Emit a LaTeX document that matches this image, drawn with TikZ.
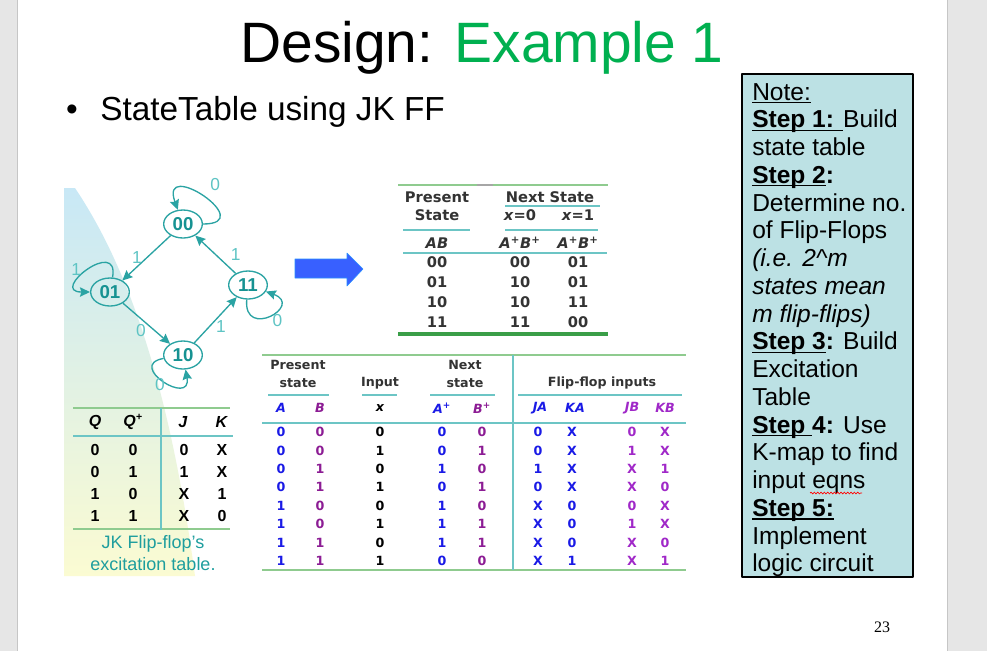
\documentclass[tikz,border=0pt]{standalone}
\usepackage{fontspec}
\setmainfont{Liberation Sans}
\newfontfamily\tabfont{DejaVu Sans}
\newfontfamily\pagefont{Liberation Serif}
\usetikzlibrary{shapes.geometric,arrows.meta,decorations.pathmorphing}
\definecolor{slidegray}{HTML}{E6E6E6}
\definecolor{titlegreen}{HTML}{00B050}
\definecolor{notefill}{HTML}{BCE1E4}
\definecolor{statecol}{HTML}{169292}
\definecolor{edgecol}{HTML}{2AA3A3}
\definecolor{lblcol}{HTML}{5EC4C4}
\definecolor{captcol}{HTML}{1E9E9E}
\definecolor{rulegreen}{HTML}{8FCB8F}
\definecolor{ruleteal}{HTML}{6CC5C5}
\definecolor{darkgreen}{HTML}{3A9E48}
\definecolor{tabtxt}{HTML}{333333}
\definecolor{acol}{HTML}{1A1AE6}
\definecolor{bcol}{HTML}{8C1C94}
\definecolor{jbcol}{HTML}{A028C8}
\definecolor{arrowblue}{HTML}{3860FF}
\definecolor{shadeblue}{HTML}{C8E8F6}
\definecolor{shadegreen}{HTML}{E2F3E4}
\definecolor{shadeyellow}{HTML}{FBFBD2}
% underline at a fixed depth below the baseline
\newcommand{\undr}[1]{\setbox0=\hbox{#1}\rlap{\rule[-2.4pt]{\wd0}{1.1pt}}\box0}
\tikzset{
  fsmstate/.style={ellipse, draw=edgecol, line width=1pt, minimum width=29pt, minimum height=21pt, inner sep=0pt, text=statecol, font=\fontsize{14}{16}\selectfont\bfseries},
  trans/.style={->, edgecol, line width=1pt},
  lbl/.style={text=lblcol, font=\fontsize{13}{15}\selectfont, inner sep=1pt},
  jkt/.style={font=\fontsize{12}{14}\selectfont\bfseries, inner sep=0pt},
  sttxt/.style={font=\tabfont\fontsize{11}{13}\selectfont\bfseries, text=tabtxt, inner sep=0pt},
  extxt/.style={font=\tabfont\fontsize{9.5}{11}\selectfont\bfseries, inner sep=0pt},
  greenrule/.style={rulegreen, line width=1.5pt},
  tealrule/.style={ruleteal, line width=1.3pt},
  notetxt/.style={anchor=base west, inner sep=0pt, font=\fontsize{18.4}{21}\selectfont},
}
\begin{document}
\begin{tikzpicture}[x=0.75pt, y=-0.75pt, line join=round, >={Stealth[length=7.5pt,width=7pt,inset=1pt]}]
\useasboundingbox (0,0) rectangle (987,651);
% slide
\fill[slidegray] (0,0) rectangle (987,651);
\fill[white] (17,0) rectangle (947,651);
\draw[gray!45] (17,0) -- (17,651) (947,0) -- (947,651);
% title and bullet
\node[anchor=base, inner sep=0pt, font=\fontsize{42.7}{50}\selectfont] (title) at (482,62) {Design: \textcolor{titlegreen}{Example 1}};
\node[anchor=base, inner sep=0pt, font=\fontsize{25}{30}\selectfont] (dot) at (72,120) {\textbullet};
\node[anchor=base west, inner sep=0pt, font=\fontsize{25}{30}\selectfont] (bullet) at (100,120) {StateTable using JK FF};
% backdrop
\shade[top color=shadeblue, middle color=shadegreen, bottom color=shadeyellow] (64,188) -- (75,188) .. controls (130,270) and (170,390) .. (195,576) -- (64,576) -- cycle;
% state diagram
\node[fsmstate] (s00) at (183,224) {00};
\node[fsmstate] (s01) at (110,292) {01};
\node[fsmstate] (s11) at (248,285) {11};
\node[fsmstate] (s10) at (183,355) {10};
\draw[trans] (s00) -- node[lbl, left=2pt] {1} (s01);
\draw[trans] (s01) -- node[lbl, below left=-1pt] {0} (s10);
\draw[trans] (s10) -- node[lbl, below right=-1pt] {1} (s11);
\draw[trans] (s11) -- node[lbl, right=10pt] {1} (s00);
\draw[trans] (s00) to[out=0, in=110, looseness=5] node[lbl, above right=3pt] {0} (s00);
\draw[trans] (s01) to[out=80, in=180, looseness=4] node[lbl, left=4pt] {1} (s01);
\draw[trans] (s11) to[out=-95, in=-20, looseness=5] node[lbl, below right=-3pt, xshift=4pt] {0} (s11);
\draw[trans] (s10) to[out=190, in=-80, looseness=4] node[lbl, below left=-3pt] {0} (s10);
% JK excitation table
\draw[greenrule] (73,408) -- (230,408) (73,529) -- (230,529);
\draw[tealrule] (73,436) -- (233,436) (161,408) -- (161,530);
\node[jkt] (hq) at (95,422) {\textit{Q}};
\node[jkt] (hqp) at (133,422) {\textit{Q\textsuperscript{+}}};
\node[jkt] (hj) at (183,422) {\textit{J}};
\node[jkt] (hk) at (222,422) {\textit{K}};
\foreach \q/\qp/\j/\k [count=\i] in {0/0/0/X, 0/1/1/X, 1/0/X/1, 1/1/X/0} {
  \node[jkt] (jq\i) at (95,{450+22*(\i-1)}) {\q};
  \node[jkt] (jqp\i) at (133,{450+22*(\i-1)}) {\qp};
  \node[jkt] (jj\i) at (184,{450+22*(\i-1)}) {\j};
  \node[jkt] (jk\i) at (222,{450+22*(\i-1)}) {\k};
}
\node[align=center, text=captcol, font=\fontsize{13.5}{17}\selectfont] (jkcap) at (153,553) {JK Flip-flop’s\\excitation table.};
% blue arrow
\filldraw[fill=arrowblue, draw=arrowblue!70!cyan, line width=0.4pt] (295,259) -- (347,259) -- (347,253) -- (363,269) -- (347,286) -- (347,278) -- (295,278) -- cycle;
% state table
\draw[greenrule] (398,185) -- (608,185);
\draw[gray!70, line width=1.5pt] (477,185) -- (493,185);
\draw[tealrule] (505,206) -- (600,206) (403,230) -- (470,230) (505,230) -- (598,230) (403,253) -- (607,253);
\draw[darkgreen, line width=2.4pt] (398,334) -- (608,334);
\node[sttxt] (hpres) at (437,197) {Present};
\node[sttxt] (hstate) at (437,215) {State};
\node[sttxt] (hnext) at (550,197) {Next State};
\node[sttxt] (hx0) at (520,215) {\textit{x}=0};
\node[sttxt] (hx1) at (578,215) {\textit{x}=1};
\node[sttxt] (hab) at (437,243) {\textit{AB}};
\node[sttxt] (hab0) at (520,243) {\textit{A\textsuperscript{+}B\textsuperscript{+}}};
\node[sttxt] (hab1) at (578,243) {\textit{A\textsuperscript{+}B\textsuperscript{+}}};
\foreach \p/\n/\m [count=\i] in {00/00/01, 01/10/01, 10/10/11, 11/11/00} {
  \node[sttxt] (sp\i) at (437,{262+20*(\i-1)}) {\p};
  \node[sttxt] (sn\i) at (520,{262+20*(\i-1)}) {\n};
  \node[sttxt] (sm\i) at (578,{262+20*(\i-1)}) {\m};
}
% excitation table
\draw[greenrule] (262,355) -- (686,355) (262,570) -- (686,570);
\draw[tealrule] (268,395) -- (329,395) (362,395) -- (397,395) (430,395) -- (495,395) (518,395) -- (682,395);
\draw[tealrule] (262,423) -- (686,423) (513,355) -- (513,570);
\node[extxt, text=tabtxt] (epres) at (298,365) {Present};
\node[extxt, text=tabtxt] (epstate) at (298,383) {state};
\node[extxt, text=tabtxt] (einput) at (380,383) {Input};
\node[extxt, text=tabtxt] (enext) at (465,365) {Next};
\node[extxt, text=tabtxt] (enstate) at (465,383) {state};
\node[extxt, text=tabtxt] (eff) at (602,383) {Flip-flop inputs};
\node[extxt, text=acol] (ha) at (281,408) {\textit{A}};
\node[extxt, text=bcol] (hb) at (320,408) {\textit{B}};
\node[extxt, text=black] (hx) at (380,408) {\textit{x}};
\node[extxt, text=acol] (hap) at (442,408) {\textit{A\textsuperscript{+}}};
\node[extxt, text=bcol] (hbp) at (482,408) {\textit{B\textsuperscript{+}}};
\node[extxt, text=acol] (hja) at (540,408) {\textit{JA}};
\node[extxt, text=acol] (hka) at (575,408) {\textit{KA}};
\node[extxt, text=jbcol] (hjb) at (632,408) {\textit{JB}};
\node[extxt, text=jbcol] (hkb) at (665,408) {\textit{KB}};
\foreach \a/\b/\xin/\ap/\bp/\ja/\ka/\jb/\kb [count=\i] in
  {0/0/0/0/0/0/X/0/X, 0/0/1/0/1/0/X/1/X, 0/1/0/1/0/1/X/X/1, 0/1/1/0/1/0/X/X/0,
   1/0/0/1/0/X/0/0/X, 1/0/1/1/1/X/0/1/X, 1/1/0/1/1/X/0/X/0, 1/1/1/0/0/X/1/X/1} {
  \node[extxt, text=acol] (ea\i) at (281,{432+18.4*(\i-1)}) {\a};
  \node[extxt, text=bcol] (eb\i) at (320,{432+18.4*(\i-1)}) {\b};
  \node[extxt, text=black] (ex\i) at (380,{432+18.4*(\i-1)}) {\xin};
  \node[extxt, text=acol] (eap\i) at (442,{432+18.4*(\i-1)}) {\ap};
  \node[extxt, text=bcol] (ebp\i) at (482,{432+18.4*(\i-1)}) {\bp};
  \node[extxt, text=acol] (eja\i) at (538,{432+18.4*(\i-1)}) {\ja};
  \node[extxt, text=acol] (eka\i) at (572,{432+18.4*(\i-1)}) {\ka};
  \node[extxt, text=jbcol] (ejb\i) at (632,{432+18.4*(\i-1)}) {\jb};
  \node[extxt, text=jbcol] (ekb\i) at (665,{432+18.4*(\i-1)}) {\kb};
}
% note box
\filldraw[fill=notefill, draw=black, line width=0.8pt] (742,74) rectangle (913,577);
\foreach \t [count=\i] in {{\undr{Note:}}, {\undr{\textbf{Step 1: }}Build}, {state table},
  {\undr{\textbf{Step 2}}\textbf{:}}, {Determine no.}, {of Flip-Flops},
  {\textit{(i.e. 2\textasciicircum m}}, {\textit{states mean}}, {\textit{m flip-flips)}},
  {\undr{\textbf{Step 3}}\textbf{:} Build}, {Excitation}, {Table},
  {\undr{\textbf{Step }}\textbf{4:} Use}, {K-map to find}, {input eqns},
  {\undr{\textbf{Step 5:}}}, {Implement}, {logic circuit}}
  \node[notetxt] (note\i) at (752,{100+27.76*(\i-1)}) {\t};
\draw[red, line width=0.5pt, decorate, decoration={snake, amplitude=0.7pt, segment length=2.5pt}] (810,493) -- (862,493);
% page number
\node[anchor=base, inner sep=0pt, font=\pagefont\fontsize{12}{14}\selectfont] (pgno) at (882,632) {23};
\end{tikzpicture}
\end{document}
